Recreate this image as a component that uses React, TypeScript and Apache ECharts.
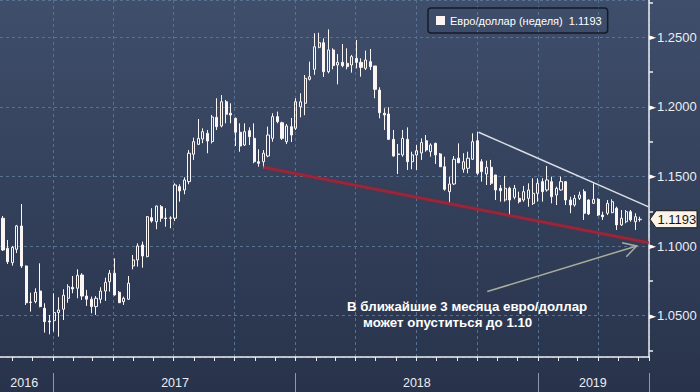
import React, { useEffect, useRef } from 'react';
import * as echarts from 'echarts';

// ---------- data ----------
const SERIES_NAME = 'Евро/доллар (неделя)';
const START_DAY = '2016-10-13'; // first day on the x axis
const DAY_COUNT = 977; // days shown on the x axis
const FIRST_CANDLE = '2016-10-17'; // weekly candles from this date

const opens = [
  1.1200, 1.0984, 1.0881, 1.0977, 1.1144, 1.0857, 1.0598, 1.0601, 1.0677, 1.0553,
  1.0462, 1.0464, 1.0522, 1.0546, 1.0625, 1.0704, 1.0697, 1.0792, 1.0641, 1.0618,
  1.0565, 1.0618, 1.0677, 1.0744, 1.0805, 1.0668, 1.0601, 1.0618, 1.0857, 1.0900,
  1.1008, 1.0924, 1.1204, 1.1175, 1.1283, 1.1202, 1.1200, 1.1200, 1.1427, 1.1403,
  1.1463, 1.1660, 1.1731, 1.1769, 1.1810, 1.1751, 1.1925, 1.1863, 1.2037, 1.1954,
  1.1918, 1.1818, 1.1726, 1.1829, 1.1774, 1.1606, 1.1606, 1.1647, 1.1774, 1.1930,
  1.1886, 1.1750, 1.1858, 1.1846, 1.2001, 1.2026, 1.2198, 1.2270, 1.2428, 1.2461,
  1.2253, 1.2409, 1.2301, 1.2320, 1.2313, 1.2301, 1.2349, 1.2320, 1.2277, 1.2325,
  1.2294, 1.2121, 1.1954, 1.1949, 1.1767, 1.1662, 1.1655, 1.1767, 1.1606, 1.1655,
  1.1669, 1.1757, 1.1678, 1.1738, 1.1662, 1.1570, 1.1391, 1.1446, 1.1631, 1.1552,
  1.1559, 1.1624, 1.1757, 1.1606, 1.1518, 1.1566, 1.1511, 1.1415, 1.1331, 1.1415,
  1.1351, 1.1343, 1.1331, 1.1343, 1.1307, 1.1379, 1.1463, 1.1403, 1.1463, 1.1367,
  1.1403, 1.1463, 1.1331, 1.1295, 1.1343, 1.1391, 1.1331, 1.1307, 1.1336, 1.1223,
  1.1236, 1.1240, 1.1272, 1.1152, 1.1175, 1.1247, 1.1175, 1.1190,
];
const closes = [
  1.0972, 1.0888, 1.0991, 1.1145, 1.0857, 1.0593, 1.0595, 1.0668, 1.0565, 1.0457,
  1.0455, 1.0522, 1.0541, 1.0647, 1.0708, 1.0692, 1.0790, 1.0641, 1.0618, 1.0565,
  1.0625, 1.0677, 1.0740, 1.0805, 1.0649, 1.0593, 1.0625, 1.0733, 1.0900, 1.1001,
  1.0929, 1.1211, 1.1180, 1.1288, 1.1200, 1.1198, 1.1202, 1.1439, 1.1396, 1.1475,
  1.1667, 1.1750, 1.1774, 1.1822, 1.1755, 1.1927, 1.1858, 1.2037, 1.1947, 1.1942,
  1.1818, 1.1719, 1.1822, 1.1786, 1.1606, 1.1595, 1.1667, 1.1798, 1.1930, 1.1894,
  1.1774, 1.1863, 1.1798, 1.2037, 1.2037, 1.2205, 1.2217, 1.2432, 1.2461, 1.2253,
  1.2409, 1.2297, 1.2320, 1.2296, 1.2289, 1.2361, 1.2320, 1.2284, 1.2337, 1.2289,
  1.2126, 1.1958, 1.1942, 1.1767, 1.1647, 1.1658, 1.1774, 1.1606, 1.1655, 1.1685,
  1.1744, 1.1690, 1.1726, 1.1655, 1.1570, 1.1408, 1.1446, 1.1624, 1.1599, 1.1606,
  1.1631, 1.1750, 1.1523, 1.1535, 1.1566, 1.1451, 1.1403, 1.1398, 1.1415, 1.1331,
  1.1415, 1.1319, 1.1391, 1.1403, 1.1379, 1.1451, 1.1391, 1.1475, 1.1355, 1.1415,
  1.1463, 1.1331, 1.1295, 1.1343, 1.1367, 1.1236, 1.1231, 1.1336, 1.1223, 1.1211,
  1.1307, 1.1319, 1.1152, 1.1200, 1.1247, 1.1188, 1.1211, 1.1193,
];
const lows = [
  1.0965, 1.0871, 1.0859, 1.0950, 1.0843, 1.0577, 1.0529, 1.0589, 1.0560, 1.0378,
  1.0366, 1.0385, 1.0349, 1.0469, 1.0593, 1.0661, 1.0625, 1.0613, 1.0570, 1.0517,
  1.0505, 1.0589, 1.0606, 1.0673, 1.0644, 1.0591, 1.0577, 1.0613, 1.0833, 1.0852,
  1.0845, 1.0920, 1.1168, 1.1121, 1.1175, 1.1139, 1.1128, 1.1180, 1.1319, 1.1372,
  1.1444, 1.1619, 1.1726, 1.1739, 1.1667, 1.1737, 1.1834, 1.1853, 1.1882, 1.1882,
  1.1719, 1.1678, 1.1719, 1.1726, 1.1595, 1.1570, 1.1559, 1.1638, 1.1750, 1.1882,
  1.1762, 1.1733, 1.1748, 1.1834, 1.1925, 1.1940, 1.2190, 1.2230, 1.2421, 1.2215,
  1.2241, 1.2270, 1.2162, 1.2285, 1.2270, 1.2246, 1.2277, 1.2217, 1.2265, 1.2265,
  1.2062, 1.1918, 1.1834, 1.1762, 1.1642, 1.1518, 1.1642, 1.1547, 1.1552, 1.1547,
  1.1619, 1.1678, 1.1642, 1.1590, 1.1568, 1.1398, 1.1312, 1.1439, 1.1595, 1.1527,
  1.1523, 1.1619, 1.1511, 1.1463, 1.1439, 1.1439, 1.1331, 1.1319, 1.1319, 1.1223,
  1.1336, 1.1307, 1.1319, 1.1283, 1.1295, 1.1319, 1.1319, 1.1391, 1.1307, 1.1295,
  1.1398, 1.1295, 1.1236, 1.1283, 1.1331, 1.1188, 1.1223, 1.1302, 1.1216, 1.1188,
  1.1223, 1.1236, 1.1116, 1.1145, 1.1164, 1.1175, 1.1116, 1.1175,
];
const highs = [
  1.1216, 1.1044, 1.1001, 1.1152, 1.1302, 1.0860, 1.0665, 1.0697, 1.0876, 1.0589,
  1.0505, 1.0661, 1.0632, 1.0690, 1.0726, 1.0785, 1.0833, 1.0805, 1.0685, 1.0637,
  1.0641, 1.0704, 1.0773, 1.0828, 1.0912, 1.0677, 1.0637, 1.0785, 1.0936, 1.1020,
  1.1032, 1.1216, 1.1272, 1.1290, 1.1295, 1.1272, 1.1214, 1.1451, 1.1444, 1.1494,
  1.1690, 1.1779, 1.1913, 1.1846, 1.1834, 1.1942, 1.2062, 1.2085, 1.2050, 1.2026,
  1.1923, 1.1882, 1.1882, 1.1853, 1.1882, 1.1695, 1.1690, 1.1858, 1.1954, 1.1966,
  1.1894, 1.1877, 1.1920, 1.2062, 1.2098, 1.2229, 1.2325, 1.2529, 1.2533, 1.2493,
  1.2557, 1.2421, 1.2380, 1.2452, 1.2421, 1.2373, 1.2481, 1.2349, 1.2404, 1.2416,
  1.2294, 1.2141, 1.1990, 1.1997, 1.1834, 1.1733, 1.1834, 1.1853, 1.1678, 1.1726,
  1.1774, 1.1798, 1.1738, 1.1743, 1.1669, 1.1642, 1.1499, 1.1647, 1.1738, 1.1667,
  1.1678, 1.1810, 1.1822, 1.1624, 1.1614, 1.1619, 1.1511, 1.1439, 1.1504, 1.1427,
  1.1439, 1.1391, 1.1432, 1.1451, 1.1487, 1.1487, 1.1487, 1.1575, 1.1499, 1.1427,
  1.1499, 1.1463, 1.1355, 1.1367, 1.1391, 1.1408, 1.1336, 1.1451, 1.1343, 1.1247,
  1.1331, 1.1336, 1.1283, 1.1259, 1.1259, 1.1259, 1.1236, 1.1211,
];

// x axis year labels (placed at the middle of each visible year span)
const yearLabelDates = ['2016-11-18', '2017-07-03', '2018-07-02', '2019-03-24'];
const yearLabelTexts = ['2016', '2017', '2018', '2019'];

// annotation lines [date, price]
const redLineFrom: [string, number] = ['2017-11-13', 1.1567];
const redLineTo: [string, number] = ['2019-06-16', 1.1024];
const whiteLineFrom: [string, number] = ['2018-10-03', 1.1818];
const whiteLineTo: [string, number] = ['2019-06-16', 1.1282];
const arrowFrom: [string, number] = ['2018-10-16', 1.0673];
const arrowTo: [string, number] = ['2019-05-29', 1.1001];

const noteLine1 = 'В ближайшие 3 месяца евро/доллар';
const noteLine2 = 'может опуститься до 1.10';

// ---------- helpers ----------
const DAY = 86400000;
const toDate = (ms: number) => new Date(ms).toISOString().slice(0, 10);
const startMs = Date.parse(START_DAY + 'T00:00:00Z');
const days = Array.from({ length: DAY_COUNT }, (_, i) => toDate(startMs + i * DAY));
const firstMs = Date.parse(FIRST_CANDLE + 'T00:00:00Z');
const candleDates = opens.map((_, i) => toDate(firstMs + i * 7 * DAY));
const byDate = new Map<string, number[]>(
  candleDates.map((d, i) => [d, [opens[i], closes[i], lows[i], highs[i]]])
);
const seriesData = days.map((d) => byDate.get(d) ?? '-');
const dayIdx = (d: string) => days.indexOf(d);

const FONT = '"Liberation Sans", Arial, sans-serif';
const GRID_RIGHT = 51;
const AXIS_COLOR = '#eceef3';
const GRID_COLOR = '#5a7292';
const CANDLE = '#fbf5f4';

const isMajor = (v: number) => Math.abs(v * 20 - Math.round(v * 20)) < 1e-6;

export default function App() {
  const ref = useRef<HTMLDivElement>(null);

  useEffect(() => {
    const chart = echarts.init(ref.current!, null, { renderer: 'svg' });
    const lastClose = closes[closes.length - 1];

    const option: any = {
      animation: false,
      backgroundColor: new echarts.graphic.LinearGradient(0, 0, 0, 1, [
        { offset: 0, color: '#3f4e6b' },
        { offset: 1, color: '#28334b' },
      ]),
      textStyle: { fontFamily: FONT },
      grid: { left: 0, right: GRID_RIGHT, top: 0, bottom: 35, containLabel: false },
      legend: {
        left: 428,
        top: 8,
        selectedMode: false,
        data: [{ name: SERIES_NAME, icon: 'rect', itemStyle: { color: CANDLE, borderWidth: 0 } }],
        itemWidth: 9,
        itemHeight: 9,
        padding: [7, 6, 7, 8],
        borderColor: '#151b28',
        borderWidth: 1.5,
        borderRadius: 3,
        textStyle: { color: '#ffffff', fontSize: 11, fontFamily: FONT },
        formatter: (name: string) => `${name}  ${lastClose.toFixed(4)}`,
      },
      xAxis: [
        {
          type: 'category',
          data: days,
          boundaryGap: true,
          axisLine: { show: true, lineStyle: { color: AXIS_COLOR, width: 1.5 } },
          axisTick: {
            show: true,
            interval: (i: number) => days[i].endsWith('-01'),
            length: 4,
            lineStyle: { color: AXIS_COLOR, width: 1 },
          },
          splitLine: {
            show: true,
            interval: (i: number) => /-(01|04|07|10)-01$/.test(days[i]),
            lineStyle: { color: GRID_COLOR, type: [3, 3], width: 1 },
          },
          axisLabel: {
            show: true,
            interval: (i: number) => yearLabelDates.includes(days[i]),
            formatter: (v: string) => yearLabelTexts[yearLabelDates.indexOf(v)] ?? '',
            color: AXIS_COLOR,
            fontSize: 12.5,
            margin: 19,
            fontFamily: FONT,
          },
        },
        {
          type: 'category',
          data: days,
          position: 'bottom',
          offset: 16,
          boundaryGap: true,
          axisLine: { show: false },
          axisTick: {
            show: true,
            interval: (i: number) => days[i].endsWith('-01-01'),
            length: 19,
            lineStyle: { color: '#8e98ab', width: 1 },
          },
          axisLabel: { show: false },
          splitLine: { show: false },
        },
      ],
      yAxis: {
        type: 'value',
        position: 'right',
        min: 1.0203,
        max: 1.2768,
        splitNumber: 5,
        axisLine: { show: true, lineStyle: { color: AXIS_COLOR, width: 1.5 } },
        axisTick: { show: false },
        minorTick: { show: true, splitNumber: 2, length: 4, lineStyle: { color: AXIS_COLOR, width: 1.5 } },
        splitLine: { show: true, lineStyle: { color: GRID_COLOR, type: [3, 3], width: 1 } },
        axisLabel: {
          margin: 0,
          showMinLabel: false,
          showMaxLabel: false,
          formatter: (v: number) => (isMajor(v) ? `{t|►}{v|${v.toFixed(4)}}` : ''),
          rich: {
            t: { fontSize: 9, color: '#ffffff', fontFamily: '"DejaVu Sans", sans-serif', padding: [0, 1, 0, 0] },
            v: { fontSize: 13, color: AXIS_COLOR, fontFamily: FONT },
          },
        },
      },
      series: [
        {
          type: 'candlestick',
          name: SERIES_NAME,
          data: seriesData,
          large: false,
          barWidth: 2.6,
          itemStyle: {
            color: 'rgba(0,0,0,0)',
            color0: CANDLE,
            borderColor: CANDLE,
            borderColor0: CANDLE,
            borderWidth: 1,
          },
          markLine: {
            silent: true,
            symbol: ['none', 'none'],
            label: { show: false },
            data: [
              [
                {
                  coord: [dayIdx(redLineFrom[0]), redLineFrom[1]],
                  lineStyle: { color: '#9c2639', width: 2.5, type: 'solid', shadowBlur: 3, shadowColor: 'rgba(150,30,50,0.6)' },
                },
                { coord: [dayIdx(redLineTo[0]), redLineTo[1]] },
              ],
              [
                {
                  coord: [dayIdx(whiteLineFrom[0]), whiteLineFrom[1]],
                  lineStyle: { color: '#d9dde6', width: 1.5, type: 'solid' },
                },
                { coord: [dayIdx(whiteLineTo[0]), whiteLineTo[1]] },
              ],
            ],
          },
        },
      ],
    };

    chart.setOption(option);

    // annotations placed through the chart's own scales
    const px = (d: string) => chart.convertToPixel({ xAxisIndex: 0 }, dayIdx(d)) as number;
    const py = (v: number) => chart.convertToPixel({ yAxisIndex: 0 }, v) as number;
    const axisX = chart.getWidth() - GRID_RIGHT;
    const tagY = py(lastClose);

    const a0 = [px(arrowFrom[0]), py(arrowFrom[1])];
    const a1 = [px(arrowTo[0]), py(arrowTo[1])];
    const back = Math.atan2(a0[1] - a1[1], a0[0] - a1[0]);
    const headLen = 15;
    const headAng = (29 * Math.PI) / 180;
    const arm = (s: number) => [
      a1[0] + headLen * Math.cos(back + s * headAng),
      a1[1] + headLen * Math.sin(back + s * headAng),
    ];
    const arrowColor = '#a9ad9c';

    chart.setOption({
      graphic: [
        {
          type: 'polyline',
          z: 50,
          shape: { points: [a0, a1] },
          style: { stroke: arrowColor, lineWidth: 1.5, fill: 'none' },
        },
        {
          type: 'polyline',
          z: 50,
          shape: { points: [arm(1), a1, arm(-1)] },
          style: { stroke: arrowColor, lineWidth: 1.5, fill: 'none' },
        },
        {
          type: 'text',
          z: 50,
          x: 347,
          y: 306,
          style: {
            text: noteLine1,
            fill: '#ffffff',
            font: `bold 13.3px ${FONT}`,
            align: 'left',
            verticalAlign: 'middle',
            textAlign: 'left',
            textVerticalAlign: 'middle',
          },
        },
        {
          type: 'text',
          z: 50,
          x: 363,
          y: 322,
          style: {
            text: noteLine2,
            fill: '#ffffff',
            font: `bold 13.3px ${FONT}`,
            align: 'left',
            verticalAlign: 'middle',
            textAlign: 'left',
            textVerticalAlign: 'middle',
          },
        },
        {
          type: 'polygon',
          z: 60,
          shape: {
            points: [
              [axisX + 1, tagY],
              [axisX + 7, tagY - 8.5],
              [axisX + 48, tagY - 8.5],
              [axisX + 48, tagY + 8.5],
              [axisX + 7, tagY + 8.5],
            ],
          },
          style: { fill: '#fbf3e8', stroke: '#1b1b1b', lineWidth: 1 },
        },
        {
          type: 'text',
          z: 61,
          x: axisX + 8.5,
          y: tagY,
          style: {
            text: lastClose.toFixed(4),
            fill: '#141414',
            font: `13px ${FONT}`,
            align: 'left',
            verticalAlign: 'middle',
            textAlign: 'left',
            textVerticalAlign: 'middle',
          },
        },
      ],
    });

    return () => chart.dispose();
  }, []);

  return (
    <div
      ref={ref}
      style={{ position: 'fixed', left: 0, top: 0, width: 700, height: 392 }}
    />
  );
}
